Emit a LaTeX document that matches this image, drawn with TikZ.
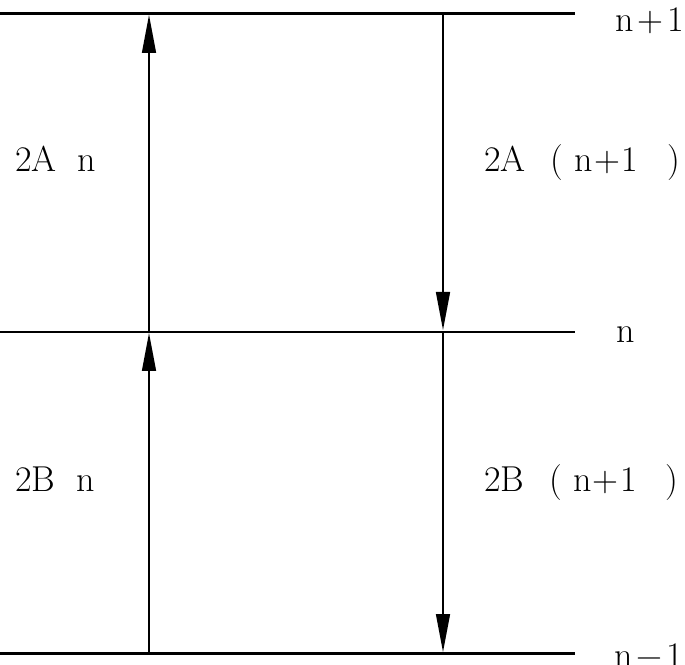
\documentclass[tikz,border=0pt]{standalone}
\usepackage{fontspec}
\usetikzlibrary{arrows.meta}
\begin{document}
\begin{tikzpicture}[x=1pt,y=1pt,
  level/.style={line width=#1},
  trans/.style={line width=1.5pt,-{Triangle[length=38pt,width=14pt]}},
  lbl/.style={font=\fontsize{36}{40}\selectfont,inner sep=0pt,anchor=base west}]
\useasboundingbox (0,0) rectangle (685,664);
% level lines
\coordinate (topL) at (0,650.5);
\coordinate (topR) at (575,650.5);
\coordinate (midL) at (0,332);
\coordinate (midR) at (575,332);
\coordinate (botL) at (0,10.5);
\coordinate (botR) at (575,10.5);
\draw[level=3pt] (topL) -- (topR);
\draw[level=2pt] (midL) -- (midR);
\draw[level=3pt] (botL) -- (botR);
% arrow end points
\coordinate (upA0) at (149,332);
\coordinate (upA1) at (149,649);
\coordinate (upB0) at (149,10.5);
\coordinate (upB1) at (149,331);
\coordinate (dnA0) at (443,650.5);
\coordinate (dnA1) at (443,334);
\coordinate (dnB0) at (443,332);
\coordinate (dnB1) at (443,12);
\draw[trans] (upA0) -- (upA1);
\draw[trans] (upB0) -- (upB1);
\draw[trans] (dnA0) -- (dnA1);
\draw[trans] (dnB0) -- (dnB1);
% labels
\node[lbl] (l2An) at (15,492) {2A\hspace{21pt}n};
\node[lbl] (l2Bn) at (15,172) {2B\hspace{21pt}n};
\node[lbl] (l2Ar) at (484,492) {2A\hspace{25pt}(\hspace{11pt}n\hspace{1.5pt}+\hspace{1.5pt}1\hspace{29pt})};
\node[lbl] (l2Br) at (484,172) {2B\hspace{25pt}(\hspace{11pt}n\hspace{1.5pt}+\hspace{1.5pt}1\hspace{29pt})};
\node[lbl] (ltop) at (615,632) {n\hspace{4pt}+\hspace{4pt}1};
\node[lbl] (lmid) at (616,321) {n};
\node[lbl] (lbot) at (614,-3) {n\hspace{4pt}−\hspace{4pt}1};
\end{tikzpicture}
\end{document}
